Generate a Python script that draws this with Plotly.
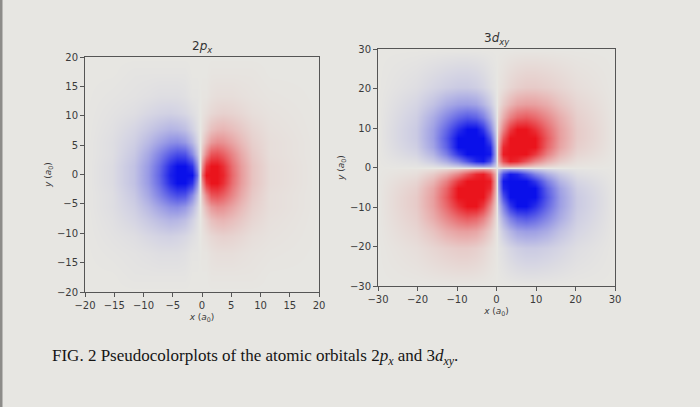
import plotly.graph_objects as go

# ---------------- data ----------------
# 2p_x orbital: sampled intensity (-1 = full blue, +1 = full red)
X_2P = [-20, -15.4, -11.7, -9.2, -7.3, -5.4, -4.2, -2.9, -1.7, -0.9, -0.4,
        0, 0.6, 1.6, 2.6, 3.6, 5.1, 6.6, 8.6, 11.6, 20]
Y_2P = [-20, -17.5, -13.3, -10.5, -7.7, -5.6, -3.5, -1.4, 0, 1.4, 3.5, 5.6, 7.7, 10.5, 13.3, 17.5, 20]
Z_2P = [
    [0, 0, 0, 0, 0, 0, 0, 0, 0, 0, 0, 0, 0, 0, 0, 0, 0, 0, 0, 0, 0],
    [0, 0, -0.01, -0.01, -0.01, -0.01, -0.01, -0.01, 0, 0, 0, 0, 0, 0.01, 0.01, 0.01, 0.01, 0.01, 0.01, 0, 0],
    [0, -0.01, -0.02, -0.03, -0.04, -0.04, -0.04, -0.03, -0.01, -0.01, 0, 0.01, 0.01, 0.03, 0.04, 0.04, 0.04, 0.03, 0.02, 0.01, 0],
    [0, -0.02, -0.04, -0.07, -0.09, -0.10, -0.09, -0.07, -0.04, -0.02, 0, 0.02, 0.04, 0.07, 0.09, 0.10, 0.09, 0.07, 0.04, 0.02, 0],
    [0, -0.03, -0.08, -0.14, -0.19, -0.23, -0.22, -0.18, -0.10, -0.04, 0, 0.04, 0.10, 0.18, 0.22, 0.23, 0.19, 0.14, 0.08, 0.03, 0],
    [0, -0.04, -0.11, -0.21, -0.31, -0.40, -0.42, -0.36, -0.22, -0.09, 0, 0.09, 0.22, 0.36, 0.42, 0.40, 0.31, 0.21, 0.11, 0.04, 0],
    [0, -0.04, -0.14, -0.29, -0.46, -0.64, -0.72, -0.69, -0.44, -0.19, 0, 0.19, 0.44, 0.69, 0.72, 0.64, 0.46, 0.29, 0.14, 0.04, 0],
    [0, -0.05, -0.17, -0.35, -0.57, -0.87, -1, -1, -0.84, -0.40, 0, 0.40, 0.84, 1, 1, 0.87, 0.57, 0.35, 0.17, 0.05, 0],
    [0, -0.05, -0.17, -0.36, -0.60, -0.92, -1, -1, -1, -0.56, 0, 0.56, 1, 1, 1, 0.92, 0.60, 0.36, 0.17, 0.05, 0],
    [0, -0.05, -0.17, -0.35, -0.57, -0.87, -1, -1, -0.84, -0.40, 0, 0.40, 0.84, 1, 1, 0.87, 0.57, 0.35, 0.17, 0.05, 0],
    [0, -0.04, -0.14, -0.29, -0.46, -0.64, -0.72, -0.69, -0.44, -0.19, 0, 0.19, 0.44, 0.69, 0.72, 0.64, 0.46, 0.29, 0.14, 0.04, 0],
    [0, -0.04, -0.11, -0.21, -0.31, -0.40, -0.42, -0.36, -0.22, -0.09, 0, 0.09, 0.22, 0.36, 0.42, 0.40, 0.31, 0.21, 0.11, 0.04, 0],
    [0, -0.03, -0.08, -0.14, -0.19, -0.23, -0.22, -0.18, -0.10, -0.04, 0, 0.04, 0.10, 0.18, 0.22, 0.23, 0.19, 0.14, 0.08, 0.03, 0],
    [0, -0.02, -0.04, -0.07, -0.09, -0.10, -0.09, -0.07, -0.04, -0.02, 0, 0.02, 0.04, 0.07, 0.09, 0.10, 0.09, 0.07, 0.04, 0.02, 0],
    [0, -0.01, -0.02, -0.03, -0.04, -0.04, -0.04, -0.03, -0.01, -0.01, 0, 0.01, 0.01, 0.03, 0.04, 0.04, 0.04, 0.03, 0.02, 0.01, 0],
    [0, 0, -0.01, -0.01, -0.01, -0.01, -0.01, -0.01, 0, 0, 0, 0, 0, 0.01, 0.01, 0.01, 0.01, 0.01, 0.01, 0, 0],
    [0, 0, 0, 0, 0, 0, 0, 0, 0, 0, 0, 0, 0, 0, 0, 0, 0, 0, 0, 0, 0],
]

# 3d_xy orbital
X_3D = [-30, -20.5, -16, -12.7, -9.8, -7.5, -5.2, -3.5, -1.7, -0.5, 0,
        0.5, 1.7, 3.5, 5.2, 7.5, 9.8, 12.7, 16, 20.5, 30]
Y_3D = [-30, -20.5, -16, -12.7, -9.8, -7.5, -5.2, -3.5, -1.7, -0.5, 0,
        0.5, 1.7, 3.5, 5.2, 7.5, 9.8, 12.7, 16, 20.5, 30]
Z_3D = [
    [0, 0, 0, 0, 0, 0, 0, 0, 0, 0, 0, 0, 0, 0, 0, 0, 0, 0, 0, 0, 0],
    [0, 0.04, 0.08, 0.11, 0.13, 0.13, 0.11, 0.08, 0.04, 0.015, 0, -0.015, -0.04, -0.08, -0.11, -0.13, -0.13, -0.11, -0.08, -0.04, 0],
    [0, 0.08, 0.17, 0.27, 0.33, 0.34, 0.31, 0.23, 0.13, 0.04, 0, -0.04, -0.13, -0.23, -0.31, -0.34, -0.33, -0.27, -0.17, -0.08, 0],
    [0, 0.11, 0.27, 0.44, 0.59, 0.66, 0.61, 0.48, 0.27, 0.09, 0, -0.09, -0.27, -0.48, -0.61, -0.66, -0.59, -0.44, -0.27, -0.11, 0],
    [0, 0.13, 0.33, 0.59, 0.86, 1, 1, 0.82, 0.47, 0.16, 0, -0.16, -0.47, -0.82, -1, -1, -0.86, -0.59, -0.33, -0.13, 0],
    [0, 0.13, 0.34, 0.66, 1, 1, 1, 1, 0.69, 0.24, 0, -0.24, -0.69, -1, -1, -1, -1, -0.66, -0.34, -0.13, 0],
    [0, 0.11, 0.31, 0.61, 1, 1, 1, 1, 0.90, 0.32, 0, -0.32, -0.90, -1, -1, -1, -1, -0.61, -0.31, -0.11, 0],
    [0, 0.08, 0.23, 0.48, 0.82, 1, 1, 1, 0.96, 0.35, 0, -0.35, -0.96, -1, -1, -1, -0.82, -0.48, -0.23, -0.08, 0],
    [0, 0.04, 0.13, 0.27, 0.47, 0.69, 0.90, 0.96, 0.72, 0.29, 0, -0.29, -0.72, -0.96, -0.90, -0.69, -0.47, -0.27, -0.13, -0.04, 0],
    [0, 0.015, 0.04, 0.09, 0.16, 0.24, 0.32, 0.35, 0.29, 0.13, 0, -0.13, -0.29, -0.35, -0.32, -0.24, -0.16, -0.09, -0.04, -0.015, 0],
    [0, 0, 0, 0, 0, 0, 0, 0, 0, 0, 0, 0, 0, 0, 0, 0, 0, 0, 0, 0, 0],
    [0, -0.015, -0.04, -0.09, -0.16, -0.24, -0.32, -0.35, -0.29, -0.13, 0, 0.13, 0.29, 0.35, 0.32, 0.24, 0.16, 0.09, 0.04, 0.015, 0],
    [0, -0.04, -0.13, -0.27, -0.47, -0.69, -0.90, -0.96, -0.72, -0.29, 0, 0.29, 0.72, 0.96, 0.90, 0.69, 0.47, 0.27, 0.13, 0.04, 0],
    [0, -0.08, -0.23, -0.48, -0.82, -1, -1, -1, -0.96, -0.35, 0, 0.35, 0.96, 1, 1, 1, 0.82, 0.48, 0.23, 0.08, 0],
    [0, -0.11, -0.31, -0.61, -1, -1, -1, -1, -0.90, -0.32, 0, 0.32, 0.90, 1, 1, 1, 1, 0.61, 0.31, 0.11, 0],
    [0, -0.13, -0.34, -0.66, -1, -1, -1, -1, -0.69, -0.24, 0, 0.24, 0.69, 1, 1, 1, 1, 0.66, 0.34, 0.13, 0],
    [0, -0.13, -0.33, -0.59, -0.86, -1, -1, -0.82, -0.47, -0.16, 0, 0.16, 0.47, 0.82, 1, 1, 0.86, 0.59, 0.33, 0.13, 0],
    [0, -0.11, -0.27, -0.44, -0.59, -0.66, -0.61, -0.48, -0.27, -0.09, 0, 0.09, 0.27, 0.48, 0.61, 0.66, 0.59, 0.44, 0.27, 0.11, 0],
    [0, -0.08, -0.17, -0.27, -0.33, -0.34, -0.31, -0.23, -0.13, -0.04, 0, 0.04, 0.13, 0.23, 0.31, 0.34, 0.33, 0.27, 0.17, 0.08, 0],
    [0, -0.04, -0.08, -0.11, -0.13, -0.13, -0.11, -0.08, -0.04, -0.015, 0, 0.015, 0.04, 0.08, 0.11, 0.13, 0.13, 0.11, 0.08, 0.04, 0],
    [0, 0, 0, 0, 0, 0, 0, 0, 0, 0, 0, 0, 0, 0, 0, 0, 0, 0, 0, 0, 0],
]

TICKS_2P = [-20, -15, -10, -5, 0, 5, 10, 15, 20]
TICKS_3D = [-30, -20, -10, 0, 10, 20, 30]
TITLE_2P = "2<i>p</i><sub><i>x</i></sub>"
TITLE_3D = "3<i>d</i><sub><i>xy</i></sub>"
XLABEL = "<i>x</i> (<i>a</i><sub>0</sub>)"
YLABEL = "<i>y</i> (<i>a</i><sub>0</sub>)"
CAPTION = ("FIG. 2 Pseudocolorplots of the atomic orbitals 2<i>p</i><sub><i>x</i></sub>"
           " and 3<i>d</i><sub><i>xy</i></sub>.")

# ---------------- styling ----------------
BG = "#e7e6e2"
COLORSCALE = [[0.0, "rgb(10,16,234)"], [0.5, BG], [1.0, "rgb(234,20,28)"]]
AX_COLOR = "#555555"
TICK_FONT = dict(family="DejaVu Sans", size=10, color="#3a3a3a")

fig = go.Figure()
fig.add_trace(go.Heatmap(x=X_2P, y=Y_2P, z=Z_2P, zmin=-1, zmax=1, zsmooth="best",
                         colorscale=COLORSCALE, showscale=False,
                         xaxis="x", yaxis="y", hoverinfo="skip"))
fig.add_trace(go.Heatmap(x=X_3D, y=Y_3D, z=Z_3D, zmin=-1, zmax=1, zsmooth="best",
                         colorscale=COLORSCALE, showscale=False,
                         xaxis="x2", yaxis="y2", hoverinfo="skip"))


def axis(rng, ticks, domain, anchor, title):
    return dict(range=rng, tickvals=ticks, domain=domain, anchor=anchor,
                automargin=False,
                showline=True, mirror=True, linecolor=AX_COLOR, linewidth=1,
                ticks="outside", ticklen=4, tickcolor=AX_COLOR, tickwidth=1,
                showgrid=False, zeroline=False, tickfont=TICK_FONT,
                title=dict(text=title, font=dict(family="DejaVu Sans", size=9, color="#3a3a3a"),
                           standoff=3))


W, H = 700, 407
fig.update_layout(
    width=W, height=H,
    margin=dict(l=0, r=0, t=0, b=0),
    paper_bgcolor=BG, plot_bgcolor=BG,
    showlegend=False,
    xaxis=axis([-20, 20], TICKS_2P, [85 / W, 319 / W], "y", XLABEL),
    yaxis=axis([-20, 20], TICKS_2P, [1 - 292 / H, 1 - 57 / H], "x", YLABEL),
    xaxis2=axis([-30, 30], TICKS_3D, [378 / W, 615 / W], "y2", XLABEL),
    yaxis2=axis([-30, 30], TICKS_3D, [1 - 286 / H, 1 - 49 / H], "x2", YLABEL),
    annotations=[
        dict(text=TITLE_2P, xref="x domain", yref="y domain", x=0.5, y=1.0,
             xanchor="center", yanchor="bottom", showarrow=False,
             font=dict(family="DejaVu Sans", size=12, color="#333333")),
        dict(text=TITLE_3D, xref="x2 domain", yref="y2 domain", x=0.5, y=1.0,
             xanchor="center", yanchor="bottom", showarrow=False,
             font=dict(family="DejaVu Sans", size=12, color="#333333")),
        dict(text=CAPTION, xref="paper", yref="paper", x=50 / W, y=1 - 357 / H,
             xanchor="left", yanchor="middle", showarrow=False,
             font=dict(family="Liberation Serif", size=17, color="#151515")),
    ],
    shapes=[
        dict(type="rect", xref="paper", yref="paper", x0=0, x1=2.5 / W, y0=0, y1=1,
             fillcolor="#8d8c89", line=dict(width=0), layer="above"),
    ],
)

fig.write_html("out.html", config={"displayModeBar": False})

# remove the default page margin so the figure fills the window exactly
with open("out.html", encoding="utf-8") as f:
    html = f.read()
html = html.replace("<head>", "<head><style>html,body{margin:0;padding:0;overflow:hidden;}</style>", 1)
with open("out.html", "w", encoding="utf-8") as f:
    f.write(html)
